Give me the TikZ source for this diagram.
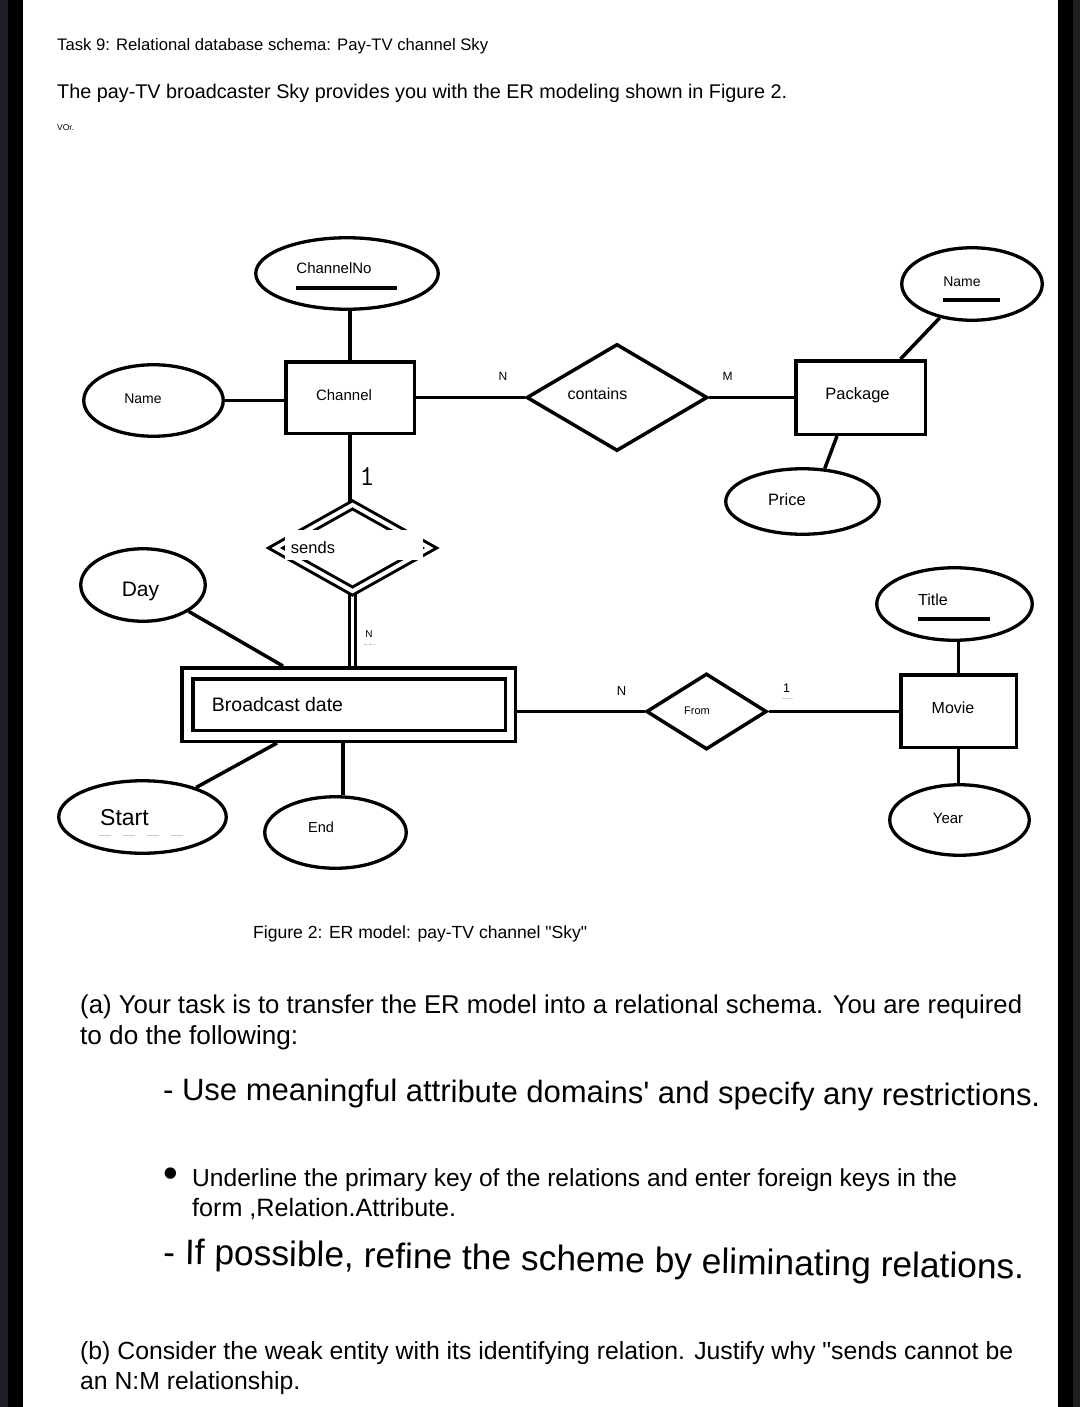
\documentclass[tikz,border=0pt]{standalone}
\usepackage{fontspec}
\setmainfont{Liberation Sans}[Ligatures=TeXOff]
\usepackage{graphicx}
\usetikzlibrary{shapes.geometric,backgrounds}
\definecolor{edgegray}{HTML}{1C2025}
\begin{document}
\begin{tikzpicture}[x=1pt,y=-1pt,
  ent/.style={draw, line width=3.5pt, rectangle, fill=white, inner sep=0pt},
  attr/.style={draw, line width=3.3pt, ellipse, fill=white, inner sep=0pt},
  rel/.style={draw, line width=3.5pt, diamond, fill=white, inner sep=0pt},
  conn/.style={line width=3.5pt},
  dbl/.style={line width=3pt, double, double distance=3pt},
  lbl/.style={inner sep=0pt, anchor=base, font=\fontsize{#1pt}{#1pt}\selectfont},
  para/.style={inner sep=0pt, anchor=base west},
  keyline/.style={line width=4pt}
]
\useasboundingbox (0,0) rectangle (1080,1407);

% ---------- texts above ----------
\node[para] (t1) at (57,51) {\resizebox{431pt}{!}{\fontsize{20pt}{24pt}\selectfont Task 9: Relational database schema: Pay-TV channel Sky}};
\node[para] (t2) at (57,99) {\resizebox{730pt}{!}{\fontsize{20pt}{24pt}\selectfont The pay-TV broadcaster Sky provides you with the ER modeling shown in Figure 2.}};
\node[para] (t3) at (57,131) {\resizebox{17pt}{!}{\fontsize{20pt}{24pt}\selectfont VOr.}};

% ---------- entities ----------
\node[ent, minimum width=128.5pt, minimum height=71.5pt] (channel) at (350,397.5) {};
\node[ent, minimum width=129.5pt, minimum height=73.5pt] (package) at (860.5,397.5) {};
\node[ent, minimum width=115.5pt, minimum height=72.5pt] (movie) at (958.5,711) {};
\node[ent, minimum width=333.5pt, minimum height=73.5pt] (bd) at (348.5,704.5) {};
\node[ent, minimum width=312.5pt, minimum height=51.5pt] (bdin) at (349,704.5) {};

% ---------- attributes ----------
\node[attr, minimum width=182.5pt, minimum height=71.5pt] (cno) at (347,273.5) {};
\node[attr, minimum width=139.5pt, minimum height=71.5pt] (name1) at (153.5,400.5) {};
\node[attr, minimum width=140.5pt, minimum height=72.5pt] (name2) at (972,284) {};
\node[attr, minimum width=153.5pt, minimum height=65.5pt] (price) at (802.5,501.5) {};
\node[attr, minimum width=124.5pt, minimum height=72.5pt] (day) at (143,585) {};
\node[attr, minimum width=167.5pt, minimum height=72.5pt] (start) at (142.5,817) {};
\node[attr, minimum width=141.5pt, minimum height=71.5pt] (end) at (335.5,832.5) {};
\node[attr, minimum width=155.5pt, minimum height=72.5pt] (title) at (954.5,604) {};
\node[attr, minimum width=139.5pt, minimum height=70.5pt] (year) at (959.5,820) {};

% ---------- relationships ----------
\node[rel, minimum width=181pt, minimum height=107pt] (contains) at (617,397.5) {};
\node[rel, minimum width=120.5pt, minimum height=76pt] (from) at (706.5,711.5) {};
\node[draw, diamond, fill=white, inner sep=0pt, line width=3pt, double, double distance=4pt,
      minimum width=155pt, minimum height=87.5pt] (sends) at (352.5,548) {};
\node[fill=white, inner sep=0pt, minimum width=138pt, minimum height=30pt] (sendsbox) at (354,545) {};

% ---------- connectors (behind shapes) ----------
\begin{scope}[on background layer]
  \fill[white] (0,0) rectangle (1080,1407);
  \fill[edgegray] (0,0) rectangle (8,1407);
  \fill[black] (8,0) rectangle (23,1407);
  \fill[black] (1058,0) rectangle (1073,1407);
  \fill[edgegray] (1073,0) rectangle (1080,1407);
  \draw[conn] (channel.north) -- (channel.north |- cno.south);
  \draw[conn] (name1.east) -- (name1.east -| channel.west);
  \draw[conn] (channel.east) -- (contains.west);
  \draw[conn] (contains.east) -- (package.west);
  \draw[conn] ([xshift=40pt]package.north) -- (name2);
  \draw[conn] ([xshift=-23.5pt]package.south) -- (price.56);
  \draw[conn] (channel.south) -- (channel.south |- sends.north);
  \draw[dbl] (sends.south) -- (sends.south |- bd.north);
  \draw[conn] (day) -- ([xshift=-65.5pt]bd.north);
  \draw[conn] (start) -- ([xshift=-71.5pt]bd.south);
  \draw[conn] ([xshift=-5.5pt]bd.south) -- ([xshift=-5.5pt]bd.south |- end.north);
  \draw[conn] (from.west -| bd.east) -- (from.west);
  \draw[conn] (from.east) -- (from.east -| movie.west);
  \draw[conn] (movie.north) -- (movie.north |- title.south);
  \draw[conn] (movie.south) -- (movie.south |- year.north);
\end{scope}

% ---------- key underlines ----------
\draw[keyline] (296,288) -- (397,288);
\draw[keyline] (943,300) -- (1000,300);
\draw[keyline] (918,619) -- (990,619);
\draw[gray!40, line width=1.5pt, dash pattern=on 12pt off 12pt] (99,835.5) -- (187,835.5);
\draw[gray!35, line width=1.2pt] (782,698.5) -- (793,698.5);
\draw[gray!50, line width=1pt, dash pattern=on 3pt off 2pt] (364,644) -- (375,644);

% ---------- diagram labels ----------
\node[lbl=15] (l-cno) at (334,273) {ChannelNo};
\node[lbl=14] (l-name1) at (143,403) {Name};
\node[lbl=15] (l-channel) at (344,400) {Channel};
\node[lbl=16] (l-contains) at (597.5,399) {contains};
\node[lbl=16.5] (l-package) at (857.5,399) {Package};
\node[lbl=14] (l-name2) at (962,286.5) {Name};
\node[lbl=16.5] (l-price) at (787,505.5) {Price};
\node[lbl=12] (l-n1) at (503,380) {N};
\node[lbl=12] (l-m) at (727.5,380) {M};
\node[inner sep=0pt, anchor=base, font=\ttfamily\fontsize{29pt}{29pt}\selectfont] (l-one1) at (367,485) {1};
\node[lbl=16.5] (l-sends) at (313,553) {sends};
\node[lbl=10] (l-n2) at (369,637.5) {N};
\node[lbl=21] (l-day) at (140.5,596.5) {Day};
\node[lbl=19.5] (l-bd) at (277.5,711.5) {Broadcast date};
\node[lbl=13] (l-n3) at (621.5,695) {N};
\node[lbl=12.5] (l-one2) at (786.5,692.5) {1};
\node[lbl=11] (l-from) at (697,714) {From};
\node[lbl=16] (l-movie) at (953,713) {Movie};
\node[lbl=16] (l-title) at (933,605.5) {Title};
\node[lbl=15] (l-year) at (948,823) {Year};
\node[lbl=23] (l-start) at (124.5,825) {Start};
\node[lbl=14.5] (l-end) at (321,832.5) {End};

% ---------- texts below ----------
\node[para] (cap) at (253,938) {\resizebox{334pt}{!}{\fontsize{20pt}{24pt}\selectfont Figure 2: ER model: pay-TV channel "Sky"}};
\node[para] (a1) at (80,1013) {\resizebox{942pt}{!}{\fontsize{20pt}{24pt}\selectfont (a) Your task is to transfer the ER model into a relational schema. You are required}};
\node[para] (a2) at (80,1044) {\resizebox{218pt}{!}{\fontsize{20pt}{24pt}\selectfont to do the following:}};
\node[para, rotate=-0.4] (a3) at (163,1100) {\resizebox{877pt}{!}{\fontsize{20pt}{24pt}\selectfont - Use meaningful attribute domains' and specify any restrictions.}};
\node[inner sep=0pt, font=\fontsize{42pt}{42pt}\selectfont] (bul) at (171,1178) {•};
\node[para] (a4) at (192,1186) {\resizebox{765pt}{!}{\fontsize{20pt}{24pt}\selectfont Underline the primary key of the relations and enter foreign keys in the}};
\node[para] (a5) at (192,1216) {\resizebox{264pt}{!}{\fontsize{20pt}{24pt}\selectfont form ,Relation.Attribute.}};
\node[para, rotate=-1.0] (a6) at (163,1264) {\resizebox{861pt}{!}{\fontsize{20pt}{24pt}\selectfont - If possible, refine the scheme by eliminating relations.}};
\node[para] (b1) at (80,1359) {\resizebox{933pt}{!}{\fontsize{20pt}{24pt}\selectfont (b) Consider the weak entity with its identifying relation. Justify why "sends cannot be}};
\node[para] (b2) at (80,1389) {\resizebox{220pt}{!}{\fontsize{20pt}{24pt}\selectfont an N:M relationship.}};
\end{tikzpicture}
\end{document}
